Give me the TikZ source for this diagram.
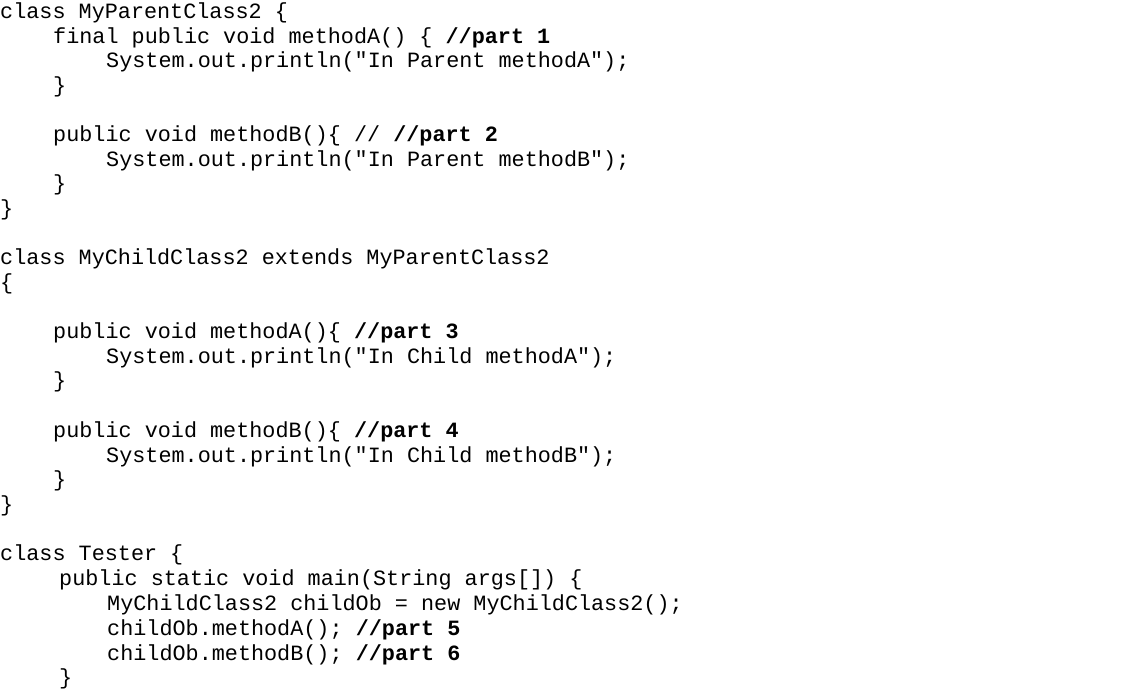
\documentclass[tikz,border=0pt]{standalone}
\usepackage{fontspec}
\setmonofont{Liberation Mono}
\begin{document}
\begin{tikzpicture}[x=1pt,y=-1pt,every node/.style={inner sep=0pt,anchor=base west,font=\ttfamily\fontsize{21.8}{24}\selectfont}]
\useasboundingbox[fill=white] (0,0) rectangle (1147,694);
\node (l1) at (0,18) {class MyParentClass2 \{};
\node (l2) at (53,43) {final public void methodA() \{ \textbf{//part 1}};
\node (l3) at (106,67) {System.out.println("In Parent methodA");};
\node (l4) at (53,92) {\}};
\node (l5) at (53,141) {public void methodB()\{ // \textbf{//part 2}};
\node (l6) at (106,166) {System.out.println("In Parent methodB");};
\node (l7) at (53,190) {\}};
\node (l8) at (0,215) {\}};
\node (l9) at (0,264) {class MyChildClass2 extends MyParentClass2};
\node (l10) at (0,289) {\{};
\node (l11) at (53,338) {public void methodA()\{ \textbf{//part 3}};
\node (l12) at (106,363) {System.out.println("In Child methodA");};
\node (l13) at (53,387) {\}};
\node (l14) at (53,437) {public void methodB()\{ \textbf{//part 4}};
\node (l15) at (106,462) {System.out.println("In Child methodB");};
\node (l16) at (53,486) {\}};
\node (l17) at (0,511) {\}};
\node (l18) at (0,560) {class Tester \{};
\node (l19) at (59,585) {public static void main(String args[]) \{};
\node (l20) at (107,610) {MyChildClass2 childOb = new MyChildClass2();};
\node (l21) at (107,635) {childOb.methodA(); \textbf{//part 5}};
\node (l22) at (107,660) {childOb.methodB(); \textbf{//part 6}};
\node (l23) at (59,684) {\}};
\end{tikzpicture}
\end{document}
